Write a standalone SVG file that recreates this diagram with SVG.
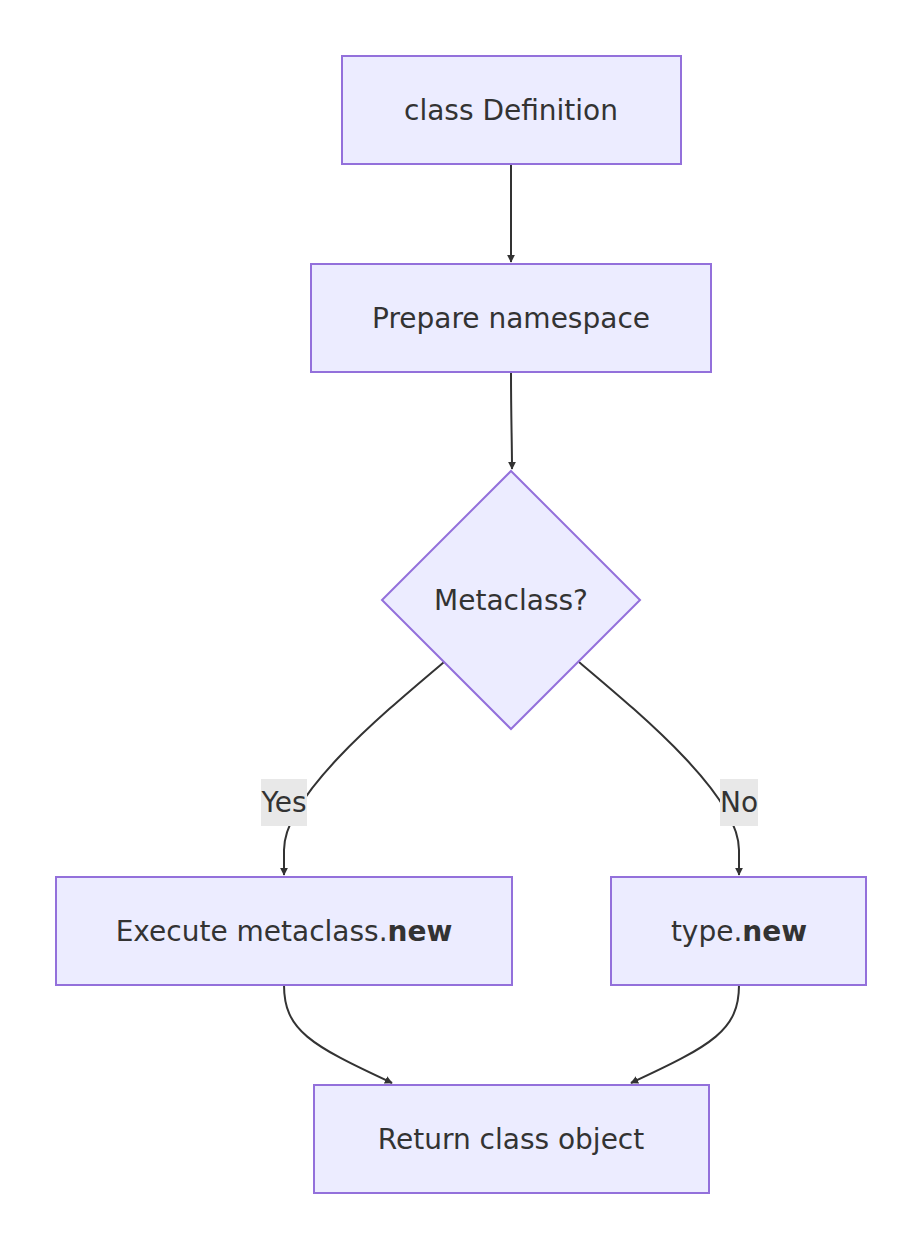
<svg xmlns="http://www.w3.org/2000/svg" width="922" height="1249" viewBox="0 0 922 1249">
<style>
.n{fill:#ECECFF;stroke:#9370DB;stroke-width:2}
.t{font-family:"DejaVu Sans",sans-serif;font-size:28px;fill:#333;text-anchor:middle;dominant-baseline:central}
.e{fill:none;stroke:#333;stroke-width:2}
.lb{fill:#e8e8e8}
</style>
<defs><marker id="a" viewBox="0 0 10 10" refX="9" refY="5" markerWidth="8" markerHeight="8" orient="auto" markerUnits="userSpaceOnUse"><path d="M0,0L10,5L0,10z" fill="#333"/></marker></defs>
<rect width="922" height="1249" fill="#fff"/>
<g id="edges">
<path class="e" d="M511,164V262" marker-end="url(#a)" style="marker-end:url(#a)"/>
<path class="e" d="M511,372C511,420 512,440 512,469" marker-end="url(#a)"/>
<path class="e" d="M444,662C380,716 284,796 284,850V875" marker-end="url(#a)"/>
<path class="e" d="M579,662C643,716 739,796 739,850V875" marker-end="url(#a)"/>
<path class="e" d="M284,985C284,1030 310,1045 392,1083" marker-end="url(#a)"/>
<path class="e" d="M739,985C739,1030 713,1045 631,1083" marker-end="url(#a)"/>
<rect class="lb" x="261" y="779" width="46" height="47"/>
<text class="t" x="284" y="802">Yes</text>
<rect class="lb" x="720" y="779" width="38" height="47"/>
<text class="t" x="739" y="802">No</text>
</g>
<g id="n1"><rect class="n" x="342" y="56" width="339" height="108"/><text class="t" x="511" y="110">class Definition</text></g>
<g id="n2"><rect class="n" x="311" y="264" width="400" height="108"/><text class="t" x="511" y="318">Prepare namespace</text></g>
<g id="n3"><polygon class="n" points="511,471 640,600 511,729 382,600"/><text class="t" x="511" y="600">Metaclass?</text></g>
<g id="n4"><rect class="n" x="56" y="877" width="456" height="108"/><text class="t" x="284" y="931">Execute metaclass.<tspan font-weight="bold">new</tspan></text></g>
<g id="n5"><rect class="n" x="611" y="877" width="255" height="108"/><text class="t" x="739" y="931">type.<tspan font-weight="bold">new</tspan></text></g>
<g id="n6"><rect class="n" x="314" y="1085" width="395" height="108"/><text class="t" x="511" y="1139">Return class object</text></g>
</svg>
